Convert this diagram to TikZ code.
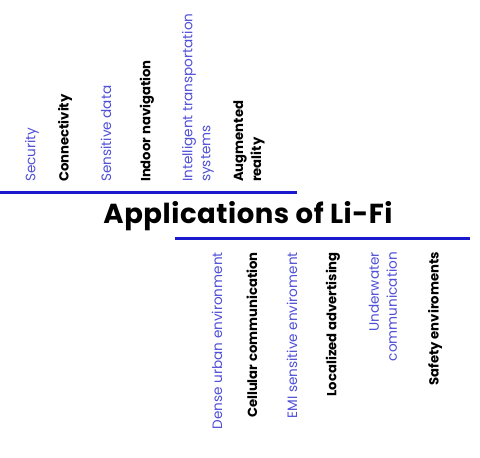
\documentclass[tikz,border=0pt]{standalone}
\usepackage{fontspec}
\setmainfont{Poppins}
\definecolor{lblue}{RGB}{80,80,215}
\definecolor{lineblue}{RGB}{25,25,205}
\begin{document}
\begin{tikzpicture}[x=1pt,y=-1pt,
  lab/.style={rotate=90,inner sep=0pt,align=left},
  bl/.style={lab,text=lblue,font=\fontsize{13.6}{18}\selectfont},
  bk/.style={lab,font=\fontsize{13.2}{18}\selectfont\bfseries,text=black},
  up/.style={anchor=west},
  down/.style={anchor=east,align=right},
  rule/.style={draw=lineblue,line width=3pt}]
\useasboundingbox (0,0) rectangle (480,458);
\fill[white] (0,0) rectangle (480,458);
% top labels
\node[bl,up] (sec) at (32,182) {Security};
\node[bk,up] (con) at (65,182) {Connectivity};
\node[bl,up] (sen) at (106,182) {Sensitive data};
\node[bk,up] (ind) at (147,182) {Indoor navigation};
\node[bl,up] (its) at (198,182) {Intelligent transportation\\systems};
\node[bk,up] (aug) at (249,182) {Augmented\\reality};
% top line
\coordinate (t1) at (0,192);
\coordinate (t2) at (297,192);
\draw[rule] (t1) -- (t2);
% title
\node[inner sep=0pt,anchor=base,font=\fontsize{27.5}{30}\selectfont\bfseries\addfontfeatures{LetterSpace=2}] (title) at (248,223) {Applications of Li-Fi};
% bottom line
\coordinate (b1) at (175,238);
\coordinate (b2) at (470,238);
\draw[rule] (b1) -- (b2);
% bottom labels
\node[bl,down] (den) at (217,252) {Dense urban environment};
\node[bk,down] (cel) at (252,252) {Cellular communication};
\node[bl,down] (emi) at (292,252) {EMI sensitive enviroment};
\node[bk,down] (loc) at (333,252) {Localized advertising};
\node[bl,down] (und) at (383,252) {Underwater\\communication};
\node[bk,down] (saf) at (435,252) {Safety enviroments};
\end{tikzpicture}
\end{document}
